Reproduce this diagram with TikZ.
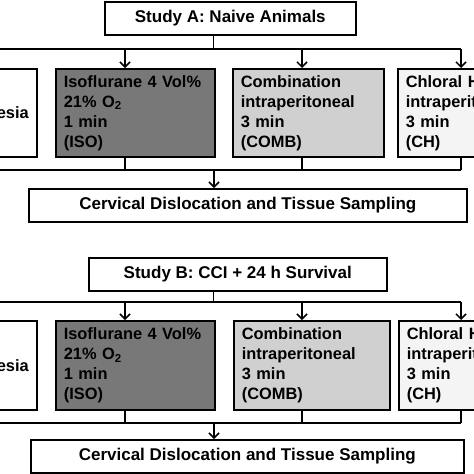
\documentclass[tikz,border=0pt]{standalone}
\usepackage{fontspec}
\setmainfont{Liberation Sans}
\usepackage{xcolor}
\usepackage{tikz}
\usetikzlibrary{positioning, arrows.meta, calc}
\definecolor{isogray}{HTML}{787878}
\definecolor{combgray}{HTML}{D0D0D0}
\definecolor{chgray}{HTML}{F4F4F4}

\begin{document}
\begin{tikzpicture}[x=1pt, y=-1pt,
    >={Straight Barb[length=5pt, width=10pt, line width=1.5pt]},
    box/.style={draw, line width=1.6pt, inner sep=0pt,
                font=\bfseries\fontsize{16.4}{20}\selectfont},
    titlebox/.style={box, anchor=north west, minimum height=33pt,
                     font=\bfseries\fontsize{17}{20}\selectfont},
    treatbox/.style={box, anchor=north west, minimum height=88pt,
                     align=left, inner xsep=8pt},
    link/.style={line width=1.5pt}]
  \useasboundingbox (0,0) rectangle (474,474);

  % Study A
  \node[titlebox, minimum width=251pt] (studyA) at (104,1) {Study A: Naive Animals};
  \node[treatbox, text width=80pt, align=right] (noneA) at (-60,68) {esia};
  \node[treatbox, fill=isogray, text width=143pt] (isoA) at (55,68)
    {Isoflurane 4 Vol\%\\21\% O\textsubscript{2}\\1 min\\(ISO)};
  \node[treatbox, fill=combgray, text width=135pt] (combA) at (232,68)
    {Combination\\intraperitoneal\\3 min\\(COMB)};
  \node[treatbox, fill=chgray, text width=144pt] (chA) at (397,68)
    {Chloral H\\intraperit\\3 min\\(CH)};
  \node[titlebox, minimum width=438pt] (cervA) at (28,188)
    {Cervical Dislocation and Tissue Sampling};

  \coordinate (splitA) at (213.5,49);
  \coordinate (joinA) at (214,170);
  \coordinate (dropIsoA) at (125,49);
  \coordinate (dropCombA) at (302,49);
  \coordinate (dropChA) at (461,49);

  \draw[link] (studyA.south -| splitA) -- (splitA);
  \draw[link] (noneA.north |- splitA) -- (dropChA);
  \draw[link, ->] (dropIsoA) -- (dropIsoA |- isoA.north);
  \draw[link, ->] (dropCombA) -- (dropCombA |- combA.north);
  \draw[link, ->] (dropChA) -- (dropChA |- chA.north);
  \draw[link] (dropIsoA |- isoA.south) -- (dropIsoA |- joinA);
  \draw[link] (dropCombA |- combA.south) -- (dropCombA |- joinA);
  \draw[link] (dropChA |- chA.south) -- (dropChA |- joinA);
  \draw[link] (noneA.south |- joinA) -- (dropChA |- joinA);
  \draw[link, ->] (joinA) -- (joinA |- cervA.north);

  % Study B
  \node[titlebox, minimum width=298pt] (studyB) at (88,257) {Study B: CCI + 24 h Survival};
  \node[treatbox, text width=80pt, align=right, minimum height=89pt] (noneB) at (-60,320) {esia};
  \node[treatbox, fill=isogray, text width=143pt, minimum height=89pt] (isoB) at (55,320)
    {Isoflurane 4 Vol\%\\21\% O\textsubscript{2}\\1 min\\(ISO)};
  \node[treatbox, fill=combgray, text width=140pt, minimum height=89pt] (combB) at (233,320)
    {Combination\\intraperitoneal\\3 min\\(COMB)};
  \node[treatbox, fill=chgray, text width=144pt, minimum height=89pt] (chB) at (398,320)
    {Chloral H\\intraperit\\3 min\\(CH)};
  \node[titlebox, minimum width=433pt] (cervB) at (30,439)
    {Cervical Dislocation and Tissue Sampling};

  \coordinate (splitB) at (213.5,302);
  \coordinate (joinB) at (214,423);
  \coordinate (dropIsoB) at (125,302);
  \coordinate (dropCombB) at (302,302);
  \coordinate (dropChB) at (461,302);

  \draw[link] (studyB.south -| splitB) -- (splitB);
  \draw[link] (noneB.north |- splitB) -- (dropChB);
  \draw[link, ->] (dropIsoB) -- (dropIsoB |- isoB.north);
  \draw[link, ->] (dropCombB) -- (dropCombB |- combB.north);
  \draw[link, ->] (dropChB) -- (dropChB |- chB.north);
  \draw[link] (dropIsoB |- isoB.south) -- (dropIsoB |- joinB);
  \draw[link] (dropCombB |- combB.south) -- (dropCombB |- joinB);
  \draw[link] (dropChB |- chB.south) -- (dropChB |- joinB);
  \draw[link] (noneB.south |- joinB) -- (dropChB |- joinB);
  \draw[link, ->] (joinB) -- (joinB |- cervB.north);
\end{tikzpicture}
\end{document}
